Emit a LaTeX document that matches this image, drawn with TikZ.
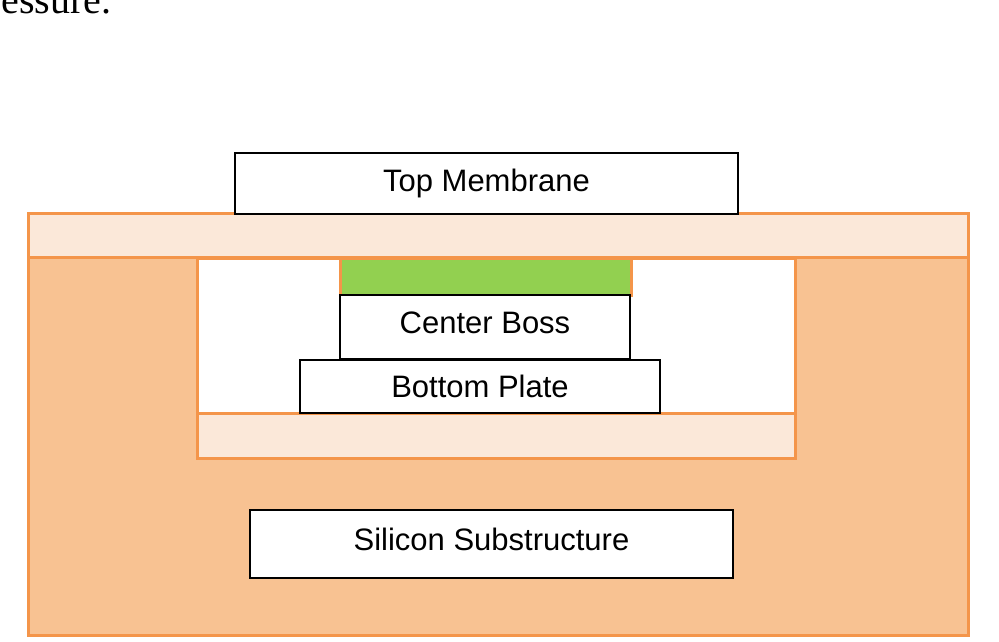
\documentclass[tikz,border=0pt]{standalone}
\usepackage{fontspec}
\setmainfont{Liberation Sans}
\newfontfamily\serifpart{Liberation Serif}
\definecolor{org}{HTML}{F4954A}
\definecolor{peach}{HTML}{F8C292}
\definecolor{light}{HTML}{FBE8D9}
\definecolor{grn}{HTML}{92D050}
\begin{document}
\begin{tikzpicture}[x=1pt,y=-1pt,
  layer/.style={draw=org,line width=3pt},
  box/.style={draw=black,line width=2pt,fill=white},
  lbl/.style={font=\fontsize{31}{34}\selectfont}]
\useasboundingbox (0,0) rectangle (999,641);
\node[anchor=base west,inner sep=0,font=\serifpart\fontsize{40}{44}\selectfont] (t) at (-12,13) {ressure.};
\draw[layer,fill=peach] (28,257) rectangle (968,635);
\draw[layer,fill=light] (28,213) rectangle (968,257);
\draw[layer,fill=light] (197,413) rectangle (795,458);
\draw[layer,fill=white] (197,258) rectangle (795,413);
\draw[layer,fill=grn] (340,258) rectangle (631,295);
\draw[box] (235,153) rectangle (738,214) node[midway,lbl] (tm) {Top Membrane};
\draw[box] (340,295) rectangle (630,359) node[midway,lbl,yshift=4pt] (cb) {Center Boss};
\draw[box] (300,360) rectangle (660,413) node[midway,lbl] (bp) {Bottom Plate};
\draw[box] (250,510) rectangle (733,578) node[midway,lbl,yshift=5pt] (ss) {Silicon Substructure};
\end{tikzpicture}
\end{document}
